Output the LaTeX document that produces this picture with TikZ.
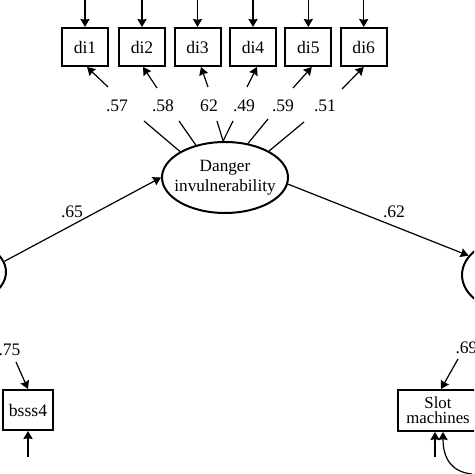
\documentclass[tikz,border=0pt]{standalone}
\usepackage{fontspec}
\setmainfont{Liberation Serif}
\usetikzlibrary{shapes.geometric, arrows.meta}
\tikzset{>={Stealth[length=4pt, width=4.6pt, inset=0.4pt]}}

\begin{document}
\begin{tikzpicture}[x=0.5pt, y=0.5pt, line width=0.6pt,
    obs/.style={draw, line width=1pt, inner sep=0pt, minimum width=23pt, minimum height=19pt},
    lat/.style={draw, ellipse, line width=1pt, inner sep=0pt},
    txt/.style={font=\fontsize{8.8}{10}\selectfont, inner sep=0pt}]
    \useasboundingbox (0,0) rectangle (474,474);
    \clip (0,0) rectangle (474,474);
    % indicators of danger invulnerability
    \foreach \n/\x in {1/85,2/142,3/197.5,4/253,5/308.3,6/363.7}
    {
    \node[obs, txt] (di\n) at (\x,427) {di\n};
    \coordinate (e\n) at (\x,490);
    \draw[->] (e\n) -- (di\n.north);
    }
    % latent factors
    \node[lat, minimum width=63pt, minimum height=35.5pt] (D) at (225,296.5) {};
    \node[txt, font=\fontsize{8.6}{10}\selectfont, align=center] (Dtxt) at (D) {Danger\\invulnerability};
    \node[lat, minimum width=62pt, minimum height=36pt] (L) at (-56,202) {};
    \node[lat, minimum width=50pt, minimum height=36pt] (R) at (512,199) {};
    \draw[->] (L.10) -- (D.west);
    \draw[->] (D.-6) -- (R.156);
    \node[txt] (w65) at (72,262) {.65};
    \node[txt] (w62) at (394,262) {.62};
    % loadings
    \foreach \n/\ang/\lx/\ly/\ux/\uy/\dx/\tx/\val in {
        1/150/144/353/108/387/1/117/.57,
        2/132/179/353/157/386/0.5/163/.58,
        3/93/217/353/208/387/1.75/209/62,
        4/93/233/353/247/387/2/244/.49,
        5/56/268/355/293/386/1.75/283/.59,
        6/31/304/352/342/385/0/325/.51}
    {
    \coordinate (lo\n) at (\lx,\ly);
    \coordinate (up\n) at (\ux,\uy);
    \draw (D.\ang) -- (lo\n);
    \draw[->] (up\n) -- ([xshift=\dx pt]di\n.south);
    \node[txt] (l\n) at (\tx,368) {\val};
    }
    % lower left indicator
    \node[obs, txt, minimum width=25pt, minimum height=20pt] (bs4) at (28,64) {bsss4};
    \coordinate (bt) at (16,112);
    \coordinate (bb) at (28,17);
    \draw[->] (bt) -- (bs4.north);
    \draw[->] (bb) -- (bs4.south);
    \node[txt] (w75) at (9.5,124) {.75};
    % lower right indicator
    \node[obs, font=\fontsize{8.4}{7.6}\selectfont, inner sep=0pt, align=center,
        minimum width=40pt, minimum height=20.5pt] (slot) at (438,63.5) {Slot\\machines};
    \coordinate (st) at (458,115);
    \coordinate (sb) at (435,17);
    \coordinate (sc) at (472,0);
    \draw[->] (st) -- ([xshift=1.5pt]slot.north);
    \draw[->] (sb) -- (slot.south -| sb);
    \draw[->] (sc) .. controls (452,2) and (443,15) .. ([xshift=2.5pt]slot.south);
    \node[txt] (w69) at (466.5,126) {.69};
    \node[txt] (w3) at (483,17) {.3};
\end{tikzpicture}
\end{document}
